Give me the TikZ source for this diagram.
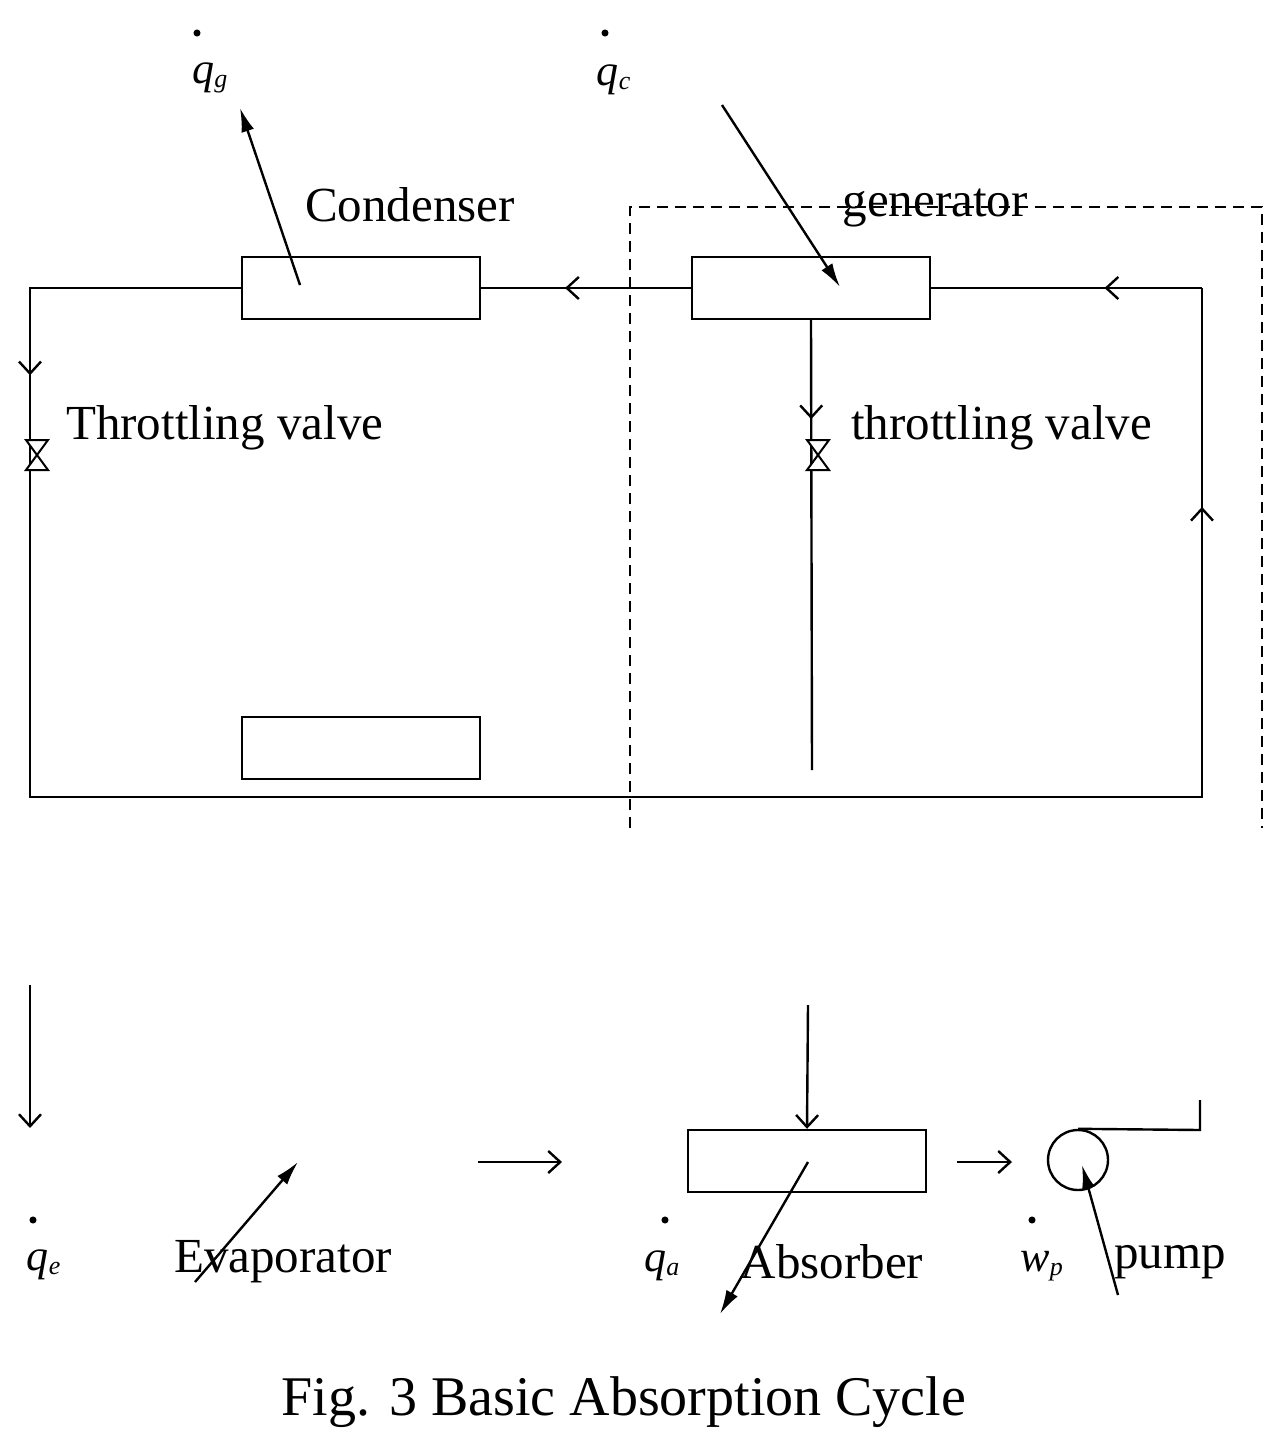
\documentclass[tikz,border=0pt]{standalone}
\usepackage{fontspec}
\setmainfont{Liberation Serif}
\usetikzlibrary{arrows.meta,decorations.markings}
\begin{document}
\begin{tikzpicture}[x=1pt,y=-1pt,line width=2.4pt,
  box/.style={draw,minimum width=238pt,minimum height=62pt,inner sep=0pt},
  lbl/.style={font=\fontsize{49}{49}\selectfont,inner sep=0pt},
  sym/.style={font=\fontsize{44}{44}\selectfont\itshape,inner sep=0pt},
  flow/.style={-{Straight Barb[length=12pt,width=22pt]}},
  heat/.style={-{Latex[length=24pt,width=13pt]}},
  mid/.style={postaction={decorate},decoration={markings,mark=at position #1 with {\arrow{Straight Barb[length=12pt,width=22pt]}}}},
  dot/.style={circle,fill,inner sep=2.5pt}]
\useasboundingbox (0,0) rectangle (1280,1435);
% components
\node[box] (cond) at (361,288) {};
\node[box] (gen) at (811,288) {};
\node[box] (evap) at (361,748) {};
\node[box] (abs) at (807,1161) {};
\node[draw,circle,minimum size=60pt,inner sep=0pt] (pump) at (1078,1160) {};
% corners
\coordinate (tl) at (30,288);
\coordinate (bl) at (30,797);
\coordinate (br) at (1202,797);
\coordinate (tr) at (1202,288);
\coordinate (gb) at (812,770);
% loop
\draw (cond.west) -- (tl) -- (bl) -- (br) -- (tr);
\draw[mid=0.9] (tl) -- (30,385);
\draw[mid=0.57] (br) -- (tr);
\draw[mid=0.36] (tr) -- (gen.east);
\draw[mid=0.6] (gen.west) -- (cond.east);
\draw[mid=0.22] (gen.south) -- (gb);
% valves
\foreach \x/\n in {37/v1,818/v2}{
  \coordinate (\n) at (\x,455);
  \draw[line width=2pt,fill=white] (\x-11,440) -- (\x+11,440) -- (\x-11,470) -- (\x+11,470) -- cycle;
}
% dashed box
\draw[dashed,dash pattern=on 11pt off 7pt] (630,828) -- (630,207) -- (1262,207) -- (1262,828);
% labels
\node[lbl,fill=white,inner sep=1pt] at (410,205) {Condenser};
\node[lbl] at (935,208) {generator};
\node[lbl,anchor=west] at (65,428) {Throttling valve};
\node[lbl,anchor=west] at (850,428) {throttling valve};
% heat symbols
\node[sym] (qg) at (210,78) {q\textsubscript{\fontsize{26}{26}\selectfont g}};
\node[dot] at (197,33) {};
\node[sym] (qc) at (614,80) {q\textsubscript{\fontsize{26}{26}\selectfont c}};
\node[dot] at (605,33) {};
\coordinate (cin) at (300,285);
\coordinate (cout) at (240,108);
\draw[heat] (cin) -- (cout);
\coordinate (gs) at (722,105);
\coordinate (ge) at (840,287);
\draw[heat] (gs) -- (ge);
% bottom
\coordinate (d1) at (30,985); \coordinate (d2) at (30,1128);
\draw[flow] (d1) -- (d2);
\node[sym] at (44,1265) {q\textsubscript{\fontsize{26}{26}\selectfont e}};
\node[dot] at (33,1220) {};
\node[lbl] at (283,1262) {Evaporator};
\coordinate (e1) at (195,1282); \coordinate (e2) at (298,1162);
\draw[heat] (e1) -- (e2);
\coordinate (r1) at (478,1162); \coordinate (r2) at (562,1162);
\draw[flow] (r1) -- (r2);
\coordinate (a1) at (808,1005);
\draw[flow] (a1) -- (abs.north);
\coordinate (a2) at (808,1162); \coordinate (a3) at (720,1314);
\node[sym] at (662,1266) {q\textsubscript{\fontsize{26}{26}\selectfont a}};
\node[dot] at (665,1220) {};
\node[lbl] at (832,1262) {Absorber};
\draw[heat] (a2) -- (a3);
\coordinate (p1) at (957,1162);
\draw[flow] (p1) -- (1012,1162);
\coordinate (pt) at (1200,1130); \coordinate (pu) at (1200,1100);
\draw (pump.north) -- (pt) -- (pu);
\node[sym] at (1042,1266) {w\textsubscript{\fontsize{26}{26}\selectfont p}};
\node[dot] at (1032,1220) {};
\node[lbl] at (1170,1262) {pump};
\coordinate (w1) at (1118,1295); \coordinate (w2) at (1082,1165);
\draw[heat] (w1) -- (w2);
\node[font=\fontsize{56}{56}\selectfont,inner sep=0pt] at (624,1402) {Fig. 3 Basic Absorption Cycle};
\end{tikzpicture}
\end{document}
